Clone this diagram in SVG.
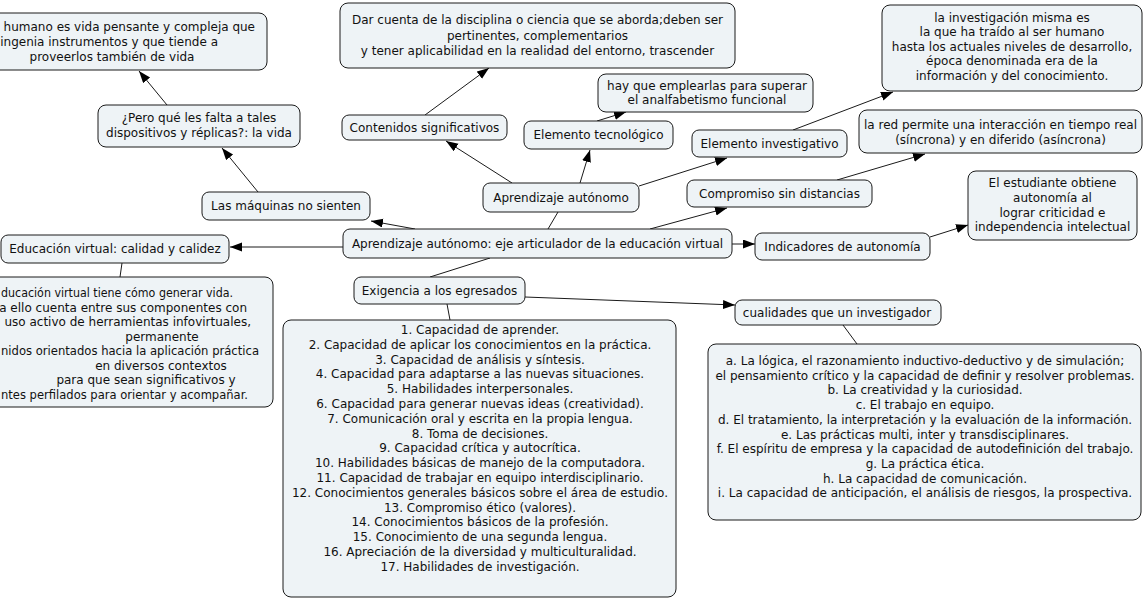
<svg xmlns="http://www.w3.org/2000/svg" width="1143" height="600" viewBox="0 0 1143 600">
<style>
.n rect{fill:#eef3f6;stroke:#1a1a1a;stroke-width:1}
text{font-family:"DejaVu Sans",Verdana,sans-serif;font-size:12px;fill:#111;text-anchor:middle}
.e{text-anchor:end}
.s{text-anchor:start}
.c line{stroke:#1a1a1a;stroke-width:1}
.a{marker-end:url(#ah)}
</style>
<defs>
<marker id="ah" markerUnits="userSpaceOnUse" markerWidth="13" markerHeight="10" refX="12" refY="4.5" orient="auto">
<path d="M0,0 L12,4.5 L0,9 z" fill="#000"/>
</marker>
</defs>
<rect width="1143" height="600" fill="#fff"/>
<g class="c" id="connectors">
<line class="a" x1="167" y1="105" x2="139" y2="71"/>
<line class="a" x1="258" y1="192" x2="222" y2="148"/>
<line class="a" x1="425" y1="115" x2="489" y2="68"/>
<line class="a" x1="597" y1="121" x2="626" y2="112"/>
<line class="a" x1="512" y1="183" x2="446" y2="141"/>
<line class="a" x1="580" y1="183" x2="590" y2="150"/>
<line class="a" x1="639" y1="186" x2="727" y2="158"/>
<line class="a" x1="793" y1="130" x2="893" y2="92"/>
<line class="a" x1="837" y1="180" x2="925" y2="154"/>
<line class="a" x1="650" y1="229" x2="727" y2="208"/>
<line class="a" x1="732" y1="244" x2="755" y2="244"/>
<line class="a" x1="930" y1="237" x2="968" y2="225"/>
<line class="a" x1="415" y1="229" x2="371" y2="221"/>
<line class="a" x1="343" y1="247" x2="230" y2="247"/>
<line x1="548" y1="229" x2="558" y2="212"/>
<line x1="122" y1="263" x2="120" y2="277"/>
<line x1="490" y1="258" x2="430" y2="277"/>
<line class="a" x1="525" y1="297" x2="735" y2="305"/>
<line x1="447" y1="304" x2="450" y2="320"/>
<line x1="843" y1="325" x2="857" y2="344"/>
</g>
<g class="n" id="n-humano">
<rect x="-10" y="13" width="277" height="57" rx="8"/>
<text class="e" x="255" y="31">humano es vida pensante y compleja que</text>
<text class="e" x="218" y="46">ingenia instrumentos y que tiende a</text>
<text x="112" y="61">proveerlos también de vida</text>
</g>
<g class="n" id="n-pero">
<rect x="98" y="105" width="202" height="42" rx="8"/>
<text x="199" y="122">¿Pero qué les falta a tales</text>
<text x="199" y="137">dispositivos y réplicas?: la vida</text>
</g>
<g class="n" id="n-dar">
<rect x="340" y="3" width="395" height="65" rx="8"/>
<text x="537.5" y="24">Dar cuenta de la disciplina o ciencia que se aborda;deben ser</text>
<text x="537.5" y="39.5">pertinentes, complementarios</text>
<text x="537.5" y="55">y tener aplicabilidad en la realidad del entorno, trascender</text>
</g>
<g class="n" id="n-hay">
<rect x="598" y="74" width="215" height="38" rx="8"/>
<text x="707" y="89.5">hay que emplearlas para superar</text>
<text x="707" y="104">el analfabetismo funcional</text>
</g>
<g class="n" id="n-contenidos">
<rect x="342" y="115" width="165" height="25" rx="7"/>
<text x="424.5" y="132">Contenidos significativos</text>
</g>
<g class="n" id="n-tecnologico">
<rect x="524" y="121" width="149" height="28" rx="7"/>
<text x="598.5" y="139">Elemento tecnológico</text>
</g>
<g class="n" id="n-investigacion">
<rect x="882" y="5" width="260" height="86" rx="8"/>
<text x="1012" y="21.5">la investigación misma es</text>
<text x="1012" y="36">la que ha traído al ser humano</text>
<text x="1012" y="50.5">hasta los actuales niveles de desarrollo,</text>
<text x="1012" y="65">época denominada era de la</text>
<text x="1012" y="79.5">información y del conocimiento.</text>
</g>
<g class="n" id="n-investigativo">
<rect x="692" y="130" width="155" height="27" rx="7"/>
<text x="769.5" y="147.5">Elemento investigativo</text>
</g>
<g class="n" id="n-red">
<rect x="859" y="110" width="283" height="43" rx="8"/>
<text x="1000.5" y="129">la red permite una interacción en tiempo real</text>
<text x="1000.5" y="144">(síncrona) y en diferido (asíncrona)</text>
</g>
<g class="n" id="n-compromiso">
<rect x="687" y="180" width="185" height="27" rx="7"/>
<text x="779.5" y="197.5">Compromiso sin distancias</text>
</g>
<g class="n" id="n-estudiante">
<rect x="968" y="171" width="169" height="69" rx="8"/>
<text x="1052.5" y="187">El estudiante obtiene</text>
<text x="1052.5" y="202">autonomía al</text>
<text x="1052.5" y="216.5">lograr criticidad e</text>
<text x="1052.5" y="231">independencia intelectual</text>
</g>
<g class="n" id="n-indicadores">
<rect x="755" y="233" width="175" height="27" rx="7"/>
<text x="842.5" y="250.5">Indicadores de autonomía</text>
</g>
<g class="n" id="n-aprendizaje">
<rect x="483" y="183" width="156" height="29" rx="7"/>
<text x="561" y="201.5">Aprendizaje autónomo</text>
</g>
<g class="n" id="n-central">
<rect x="343" y="229" width="389" height="29" rx="7"/>
<text x="537.5" y="247.5">Aprendizaje autónomo: eje articulador de la educación virtual</text>
</g>
<g class="n" id="n-maquinas">
<rect x="202" y="192" width="168" height="28" rx="7"/>
<text x="286" y="210">Las máquinas no sienten</text>
</g>
<g class="n" id="n-educacion">
<rect x="1" y="235" width="228" height="28" rx="7"/>
<text x="115" y="253">Educación virtual: calidad y calidez</text>
</g>
<g class="n" id="n-vida">
<rect x="-10" y="277" width="283" height="130" rx="8"/>
<text class="s" x="1" y="297" textLength="232" lengthAdjust="spacingAndGlyphs">ducación virtual tiene cómo generar vida.</text>
<text class="e" x="247" y="311.5">a ello cuenta entre sus componentes con</text>
<text class="e" x="251" y="326">uso activo de herramientas infovirtuales,</text>
<text x="162" y="340.5">permanente</text>
<text class="s" x="1" y="355" textLength="258" lengthAdjust="spacingAndGlyphs">nidos orientados hacia la aplicación práctica</text>
<text x="161" y="369.5">en diversos contextos</text>
<text x="146" y="384">para que sean significativos y</text>
<text class="s" x="1" y="398.5" textLength="247" lengthAdjust="spacingAndGlyphs">ntes perfilados para orientar y acompañar.</text>
</g>
<g class="n" id="n-exigencia">
<rect x="354" y="277" width="171" height="27" rx="7"/>
<text x="439.5" y="294.5">Exigencia a los egresados</text>
</g>
<g class="n" id="n-lista">
<rect x="283" y="320" width="393" height="277" rx="8"/>
<text x="480" y="334">1. Capacidad de aprender.</text>
<text x="480" y="348.8">2. Capacidad de aplicar los conocimientos en la práctica.</text>
<text x="480" y="363.6">3. Capacidad de análisis y síntesis.</text>
<text x="480" y="378.4">4. Capacidad para adaptarse a las nuevas situaciones.</text>
<text x="480" y="393.2">5. Habilidades interpersonales.</text>
<text x="480" y="408">6. Capacidad para generar nuevas ideas (creatividad).</text>
<text x="480" y="422.8">7. Comunicación oral y escrita en la propia lengua.</text>
<text x="480" y="437.6">8. Toma de decisiones.</text>
<text x="480" y="452.4">9. Capacidad crítica y autocrítica.</text>
<text x="480" y="467.2">10. Habilidades básicas de manejo de la computadora.</text>
<text x="480" y="482">11. Capacidad de trabajar en equipo interdisciplinario.</text>
<text x="480" y="496.8">12. Conocimientos generales básicos sobre el área de estudio.</text>
<text x="480" y="511.6">13. Compromiso ético (valores).</text>
<text x="480" y="526.4">14. Conocimientos básicos de la profesión.</text>
<text x="480" y="541.2">15. Conocimiento de una segunda lengua.</text>
<text x="480" y="556">16. Apreciación de la diversidad y multiculturalidad.</text>
<text x="480" y="570.8">17. Habilidades de investigación.</text>
</g>
<g class="n" id="n-cualidades">
<rect x="735" y="300" width="206" height="25" rx="7"/>
<text x="837" y="316.5">cualidades que un investigador</text>
</g>
<g class="n" id="n-cualidades-lista">
<rect x="708" y="344" width="433" height="176" rx="8"/>
<text x="925" y="365">a. La lógica, el razonamiento inductivo-deductivo y de simulación;</text>
<text x="925" y="379.7">el pensamiento crítico y la capacidad de definir y resolver problemas.</text>
<text x="925" y="394.4">b. La creatividad y la curiosidad.</text>
<text x="925" y="409.1">c. El trabajo en equipo.</text>
<text x="925" y="423.8">d. El tratamiento, la interpretación y la evaluación de la información.</text>
<text x="925" y="438.5">e. Las prácticas multi, inter y transdisciplinares.</text>
<text x="925" y="453.2">f. El espíritu de empresa y la capacidad de autodefinición del trabajo.</text>
<text x="925" y="467.9">g. La práctica ética.</text>
<text x="925" y="482.6">h. La capacidad de comunicación.</text>
<text x="925" y="497.3">i. La capacidad de anticipación, el análisis de riesgos, la prospectiva.</text>
</g>
</svg>
